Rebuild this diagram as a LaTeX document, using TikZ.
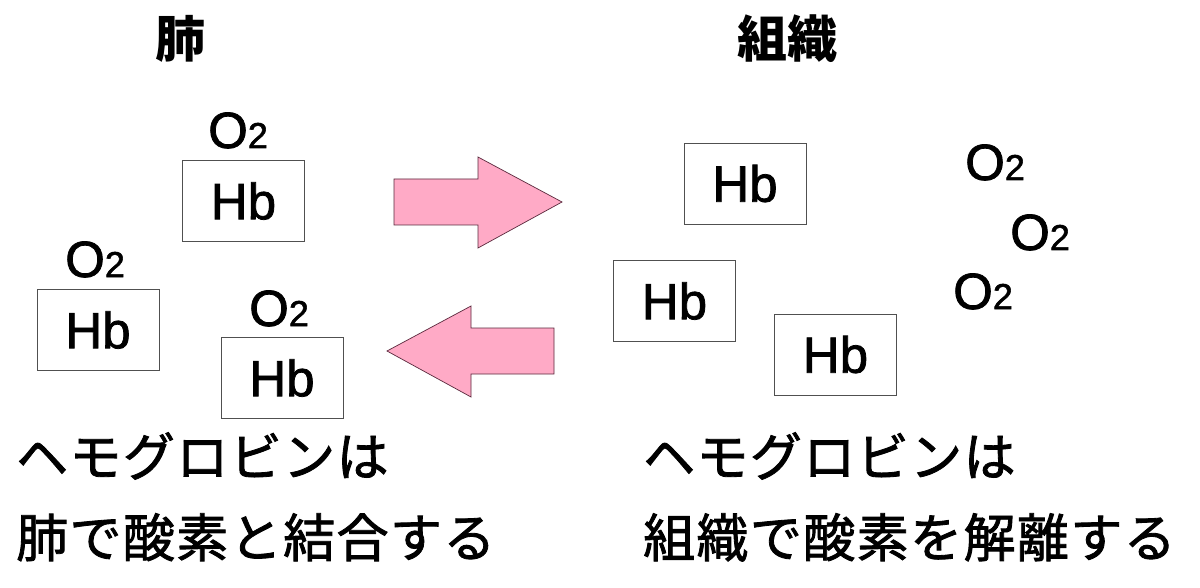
\documentclass[tikz,border=0pt]{standalone}
\usepackage{fontspec}
\setmainfont{Liberation Sans}
\newfontfamily\latinb{Liberation Sans}[FakeBold=1.5]
\newfontfamily\cjk{Noto Sans CJK JP}[FakeBold=1.6, LetterSpace=2.7]
\newfontfamily\cjkt{Noto Sans CJK JP}
\definecolor{arrowpink}{RGB}{255,170,198}
\definecolor{arrowedge}{RGB}{90,40,60}
\definecolor{boxedge}{RGB}{80,80,80}
\tikzset{
  hbbox/.style={draw=boxedge, line width=0.9pt, minimum width=122pt, minimum height=81pt, inner sep=0pt, font=\latinb\fontsize{51}{51}\selectfont},
  oxy/.style={anchor=base west, inner sep=0pt, font=\latinb\fontsize{51}{51}\selectfont},
  fatarrow/.style={fill=arrowpink, draw=arrowedge, line width=0.7pt, line join=miter},
  title/.style={anchor=base west, inner sep=0pt, font=\cjkt\bfseries\fontsize{50}{50}\selectfont},
  caption/.style={anchor=base west, inner sep=0pt, font=\cjk\fontsize{52}{52}\selectfont}
}
\newcommand{\Otwo}{O{\fontsize{36}{36}\selectfont 2}}
\begin{document}
\begin{tikzpicture}[x=1pt,y=-1pt]
\useasboundingbox (0,0) rectangle (1200,588);
% titles
\node[title] (tlung) at (155,58) {肺};
\node[title] (ttissue) at (737,58) {組織};
% left boxes
\node[hbbox] (l1) at (243.5,201) {Hb};
\node[hbbox] (l2) at (98,330) {Hb};
\node[hbbox] (l3) at (282,378) {Hb};
\node[oxy] (o1) at (208,148) {\Otwo};
\node[oxy] (o2) at (65,277) {\Otwo};
\node[oxy] (o3) at (249,326) {\Otwo};
% right boxes
\node[hbbox] (r1) at (745,183.5) {Hb};
\node[hbbox] (r2) at (674.5,301) {Hb};
\node[hbbox] (r3) at (835.5,354.5) {Hb};
\node[oxy] (o4) at (965,180) {\Otwo};
\node[oxy] (o5) at (1010,250) {\Otwo};
\node[oxy] (o6) at (953,309) {\Otwo};
% arrows
\draw[fatarrow] (394,179) -- (478,179) -- (478,157) -- (562,202) -- (478,248) -- (478,225) -- (394,225) -- cycle;
\draw[fatarrow] (387,351) -- (471,306) -- (471,328) -- (554,328) -- (554,374) -- (471,374) -- (471,397) -- cycle;
% captions
\node[caption] (c1) at (16,476) {ヘモグロビンは};
\node[caption] (c2) at (16,557) {肺で酸素と結合する};
\node[caption] (c3) at (643,476) {ヘモグロビンは};
\node[caption] (c4) at (643,557) {組織で酸素を解離する};
\end{tikzpicture}
\end{document}
